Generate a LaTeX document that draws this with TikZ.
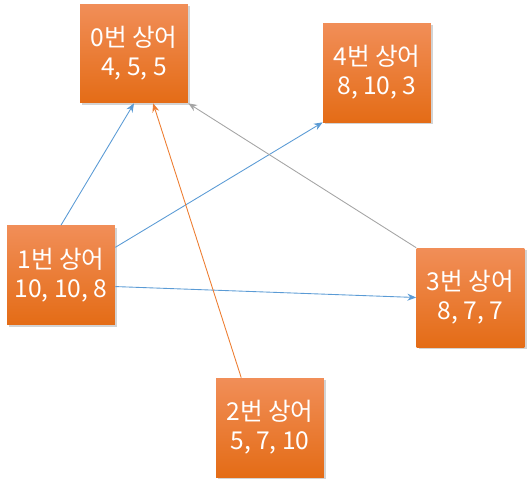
\documentclass[tikz,border=0pt]{standalone}
\usepackage{fontspec}
\setmainfont{Noto Sans CJK KR}
\usetikzlibrary{arrows.meta, shadows}
\definecolor{shtop}{RGB}{241,142,88}
\definecolor{shbot}{RGB}{228,108,22}
\definecolor{lblue}{RGB}{91,155,213}
\definecolor{lorange}{RGB}{237,125,49}
\definecolor{lgray}{RGB}{165,165,165}

\begin{document}
\begin{tikzpicture}[x=0.02cm, y=-0.02cm,
  shark/.style={rectangle, top color=shtop, bottom color=shbot, draw=none,
                text=white, font=\fontsize{14}{16.5}\selectfont, align=center,
                minimum width=2.16cm, minimum height=1.98cm, inner sep=0pt,
                drop shadow={opacity=0.35, shadow xshift=1.2pt, shadow yshift=-1.2pt}},
  arr/.style={-{Stealth[length=5pt, width=4pt]}, line width=0.5pt}
]
\useasboundingbox (0,0) rectangle (531,485);
\node[shark] (s0) at (134,53.5)  {0번 상어\\4, 5, 5};
\node[shark] (s4) at (377,72.5)  {4번 상어\\8, 10, 3};
\node[shark] (s1) at (61,275)    {1번 상어\\10, 10, 8};
\node[shark] (s3) at (470.5,297.5) {3번 상어\\8, 7, 7};
\node[shark] (s2) at (270,427.5) {2번 상어\\5, 7, 10};
\draw[arr, lblue] (s1.north) -- (s0.south);
\draw[arr, lblue] (s1.27) -- (s4.south west);
\draw[arr, lblue] (s1.-12) -- (s3.west);
\draw[arr, lorange] (s2.120) -- (s0.-69);
\draw[arr, lgray] (s3.north west) -- (s0.south east);
\end{tikzpicture}
\end{document}
